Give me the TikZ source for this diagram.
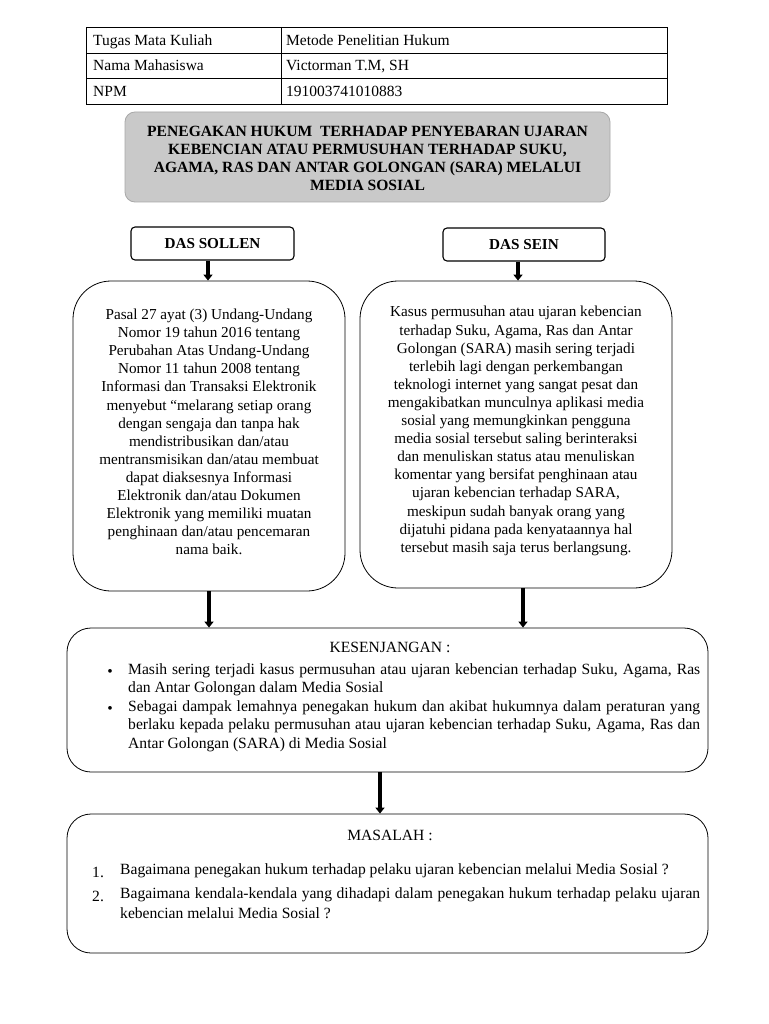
\documentclass[tikz,border=0pt]{standalone}
\usepackage{fontspec}
\setmainfont{Liberation Serif}
\usetikzlibrary{arrows.meta}
\definecolor{titlegray}{HTML}{C9C9C9}
\definecolor{titleedge}{HTML}{A8A8A8}
\tikzset{
  cell/.style={anchor=base west,inner sep=0pt,font=\fontsize{15.5}{18}\selectfont},
  smallbox/.style={draw,line width=1.1pt,rounded corners=4pt},
  bigbox/.style={draw,line width=0.8pt,rounded corners=38pt},
  widebox/.style={draw,line width=0.8pt,rounded corners=24pt},
  body/.style={align=center,inner sep=0pt,font=\fontsize{15.2}{18.1}\selectfont},
  flow/.style={line width=3.6pt,-{Triangle[width=9pt,length=6pt]}},
  para/.style={anchor=north west,inner sep=0pt,align=justify,font=\fontsize{15.6}{18.4}\selectfont},
  plain/.style={inner sep=0pt,font=\fontsize{15.6}{18}\selectfont},
}
\begin{document}
\begin{tikzpicture}[x=1pt,y=-1pt]
\useasboundingbox (0,0) rectangle (768,1024);
\fill[white] (0,0) rectangle (768,1024);
% table
\draw[line width=0.9pt] (86,27) rectangle (667,104);
\draw[line width=0.9pt] (86,53) -- (667,53) (86,78) -- (667,78) (281,27) -- (281,104);
\node[cell] (t11) at (93,45.5) {Tugas Mata Kuliah};
\node[cell] (t12) at (286,45.5) {Metode Penelitian Hukum};
\node[cell] (t21) at (93,71) {Nama Mahasiswa};
\node[cell] (t22) at (286,71) {Victorman T.M, SH};
\node[cell] (t31) at (93,96.5) {NPM};
\node[cell] (t32) at (286,96.5) {191003741010883};
% title
\node[draw=titleedge,fill=titlegray,line width=0.8pt,rounded corners=10pt,minimum width=485pt,minimum height=90pt,align=center,inner sep=0pt,font=\bfseries\fontsize{15.6}{18}\selectfont] (title) at (367.5,157) {};
\node[align=center,inner sep=0pt,font=\bfseries\fontsize{15.6}{17.8}\selectfont] (titletext) at (367.5,158.5) {PENEGAKAN HUKUM\ \ TERHADAP PENYEBARAN UJARAN\\KEBENCIAN ATAU PERMUSUHAN TERHADAP SUKU,\\AGAMA, RAS DAN ANTAR GOLONGAN (SARA) MELALUI\\MEDIA SOSIAL};
% das
\node[smallbox,minimum width=163pt,minimum height=33pt,font=\bfseries\fontsize{15.2}{17}\selectfont] (sollen) at (212.5,243.5) {DAS SOLLEN};
\node[smallbox,minimum width=162pt,minimum height=33pt,font=\bfseries\fontsize{15.2}{17}\selectfont] (sein) at (524,244.5) {DAS SEIN};
% big boxes
\node[bigbox,minimum width=272pt,minimum height=310pt] (left) at (209,436) {};
\node[body] (lefttext) at (209,432) {Pasal 27 ayat (3) Undang-Undang\\Nomor 19 tahun 2016 tentang\\Perubahan Atas Undang-Undang\\Nomor 11 tahun 2008 tentang\\Informasi dan Transaksi Elektronik\\menyebut “melarang setiap orang\\dengan sengaja dan tanpa hak\\mendistribusikan dan/atau\\mentransmisikan dan/atau membuat\\dapat diaksesnya Informasi\\Elektronik dan/atau Dokumen\\Elektronik yang memiliki muatan\\penghinaan dan/atau pencemaran\\nama baik.};
\node[bigbox,minimum width=312pt,minimum height=307pt] (right) at (516,434.5) {};
\node[body] (righttext) at (516,431) {Kasus permusuhan atau ujaran kebencian\\terhadap Suku, Agama, Ras dan Antar\\Golongan (SARA) masih sering terjadi\\terlebih lagi dengan perkembangan\\teknologi internet yang sangat pesat dan\\mengakibatkan munculnya aplikasi media\\sosial yang memungkinkan pengguna\\media sosial tersebut saling berinteraksi\\dan menuliskan status atau menuliskan\\komentar yang bersifat penghinaan atau\\ujaran kebencian terhadap SARA,\\meskipun sudah banyak orang yang\\dijatuhi pidana pada kenyataannya hal\\tersebut masih saja terus berlangsung.};
% kesenjangan
\node[widebox,minimum width=641pt,minimum height=144pt] (gap) at (387.5,700) {};
\node[plain] (gaptitle) at (390,647) {KESENJANGAN :};
\node[plain] (b1) at (110,672.5) {•};
\node[para,text width=572pt] (g1) at (128,663.5) {Masih sering terjadi kasus permusuhan atau ujaran kebencian terhadap Suku, Agama, Ras\linebreak dan Antar Golongan dalam Media Sosial};
\node[plain] (b2) at (110,709.5) {•};
\node[para,text width=572pt] (g2) at (128,700.5) {Sebagai dampak lemahnya penegakan hukum dan akibat hukumnya dalam peraturan yang\linebreak berlaku kepada pelaku permusuhan atau ujaran kebencian terhadap Suku, Agama, Ras dan\linebreak Antar Golongan (SARA) di Media Sosial};
% masalah
\node[widebox,minimum width=641pt,minimum height=139pt] (prob) at (387.5,883.5) {};
\node[plain] (probtitle) at (390,835) {MASALAH :};
\node[plain,anchor=west] (n1) at (92,872) {1.};
\node[para,text width=580pt] (p1) at (120,863) {Bagaimana penegakan hukum terhadap pelaku ujaran kebencian melalui Media Sosial ?};
\node[plain,anchor=west] (n2) at (92,896) {2.};
\node[para,text width=580pt,font=\fontsize{15.6}{20.5}\selectfont] (p2) at (120,887) {Bagaimana kendala-kendala yang dihadapi dalam penegakan hukum terhadap pelaku ujaran\linebreak kebencian melalui Media Sosial ?};
% arrows
\draw[flow] (sollen.south -| 208,0) -- (left.north -| 208,0);
\draw[flow] (sein.south -| 518,0) -- (right.north -| 518,0);
\draw[flow] (left.south -| 209,0) -- (gap.north -| 209,0);
\draw[flow] (right.south -| 523,0) -- (gap.north -| 523,0);
\draw[flow] (gap.south -| 380,0) -- (prob.north -| 380,0);
\end{tikzpicture}
\end{document}
